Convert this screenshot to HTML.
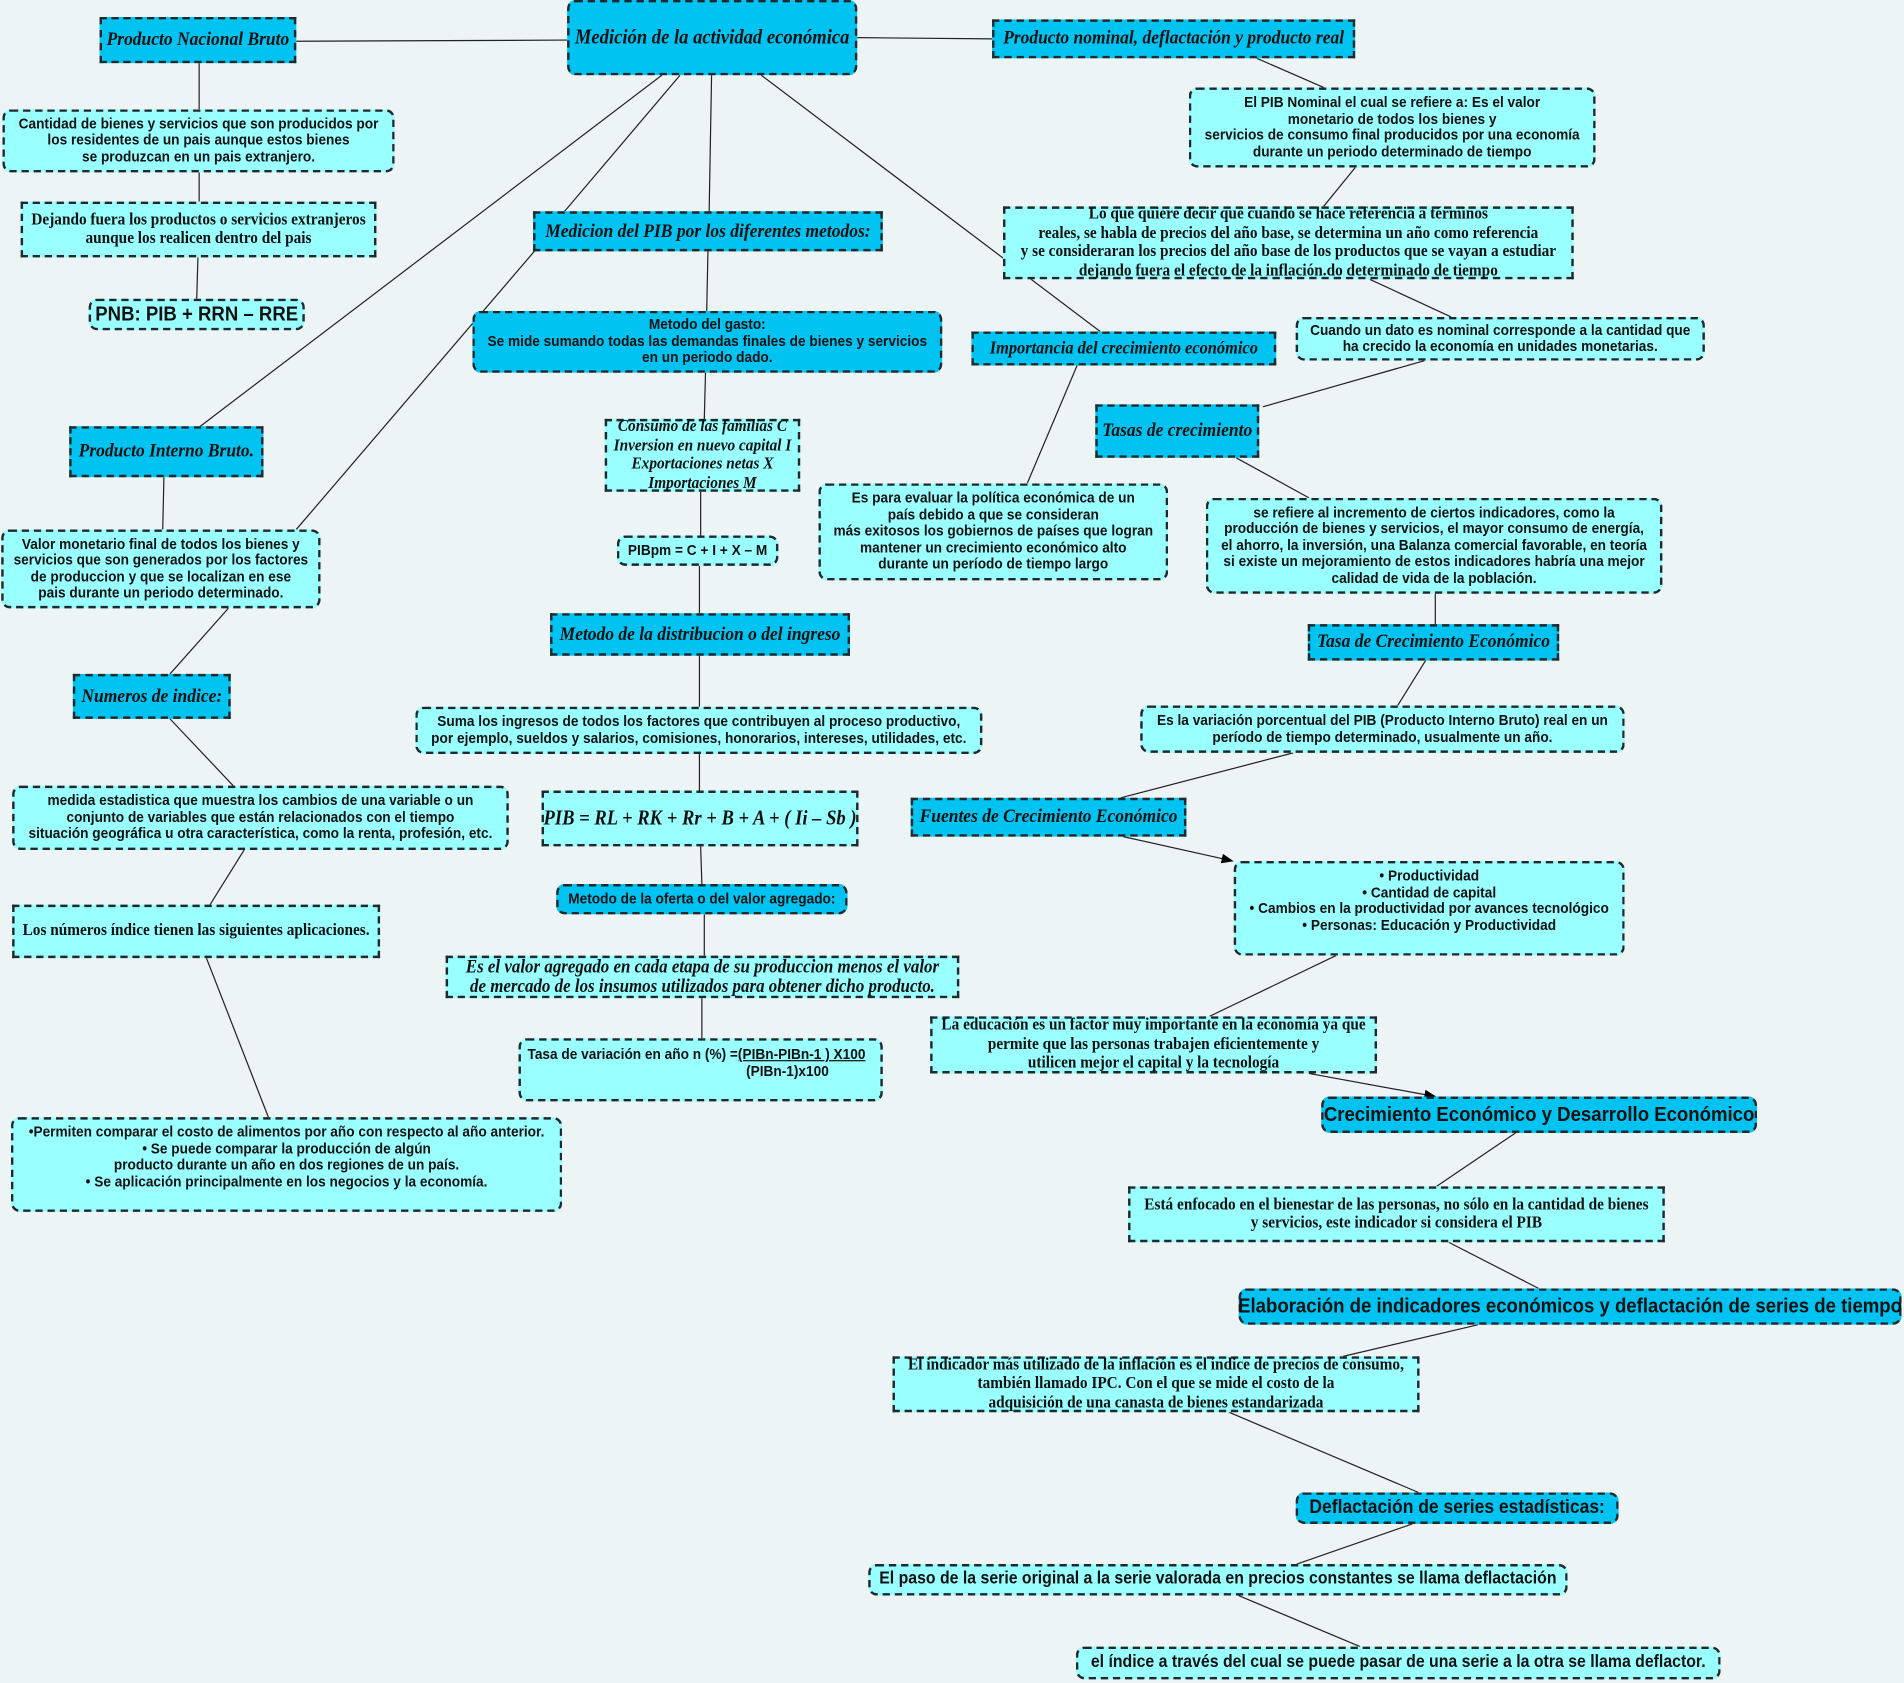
<!DOCTYPE html>
<html><head><meta charset="utf-8">
<style>
html,body{margin:0;padding:0;background:#edf4f6;}
#wrap{position:relative;width:1568px;height:1386px;transform:scale(1.2143);transform-origin:0 0;}
svg{position:absolute;left:0;top:0;}
.b{position:absolute;box-sizing:border-box;border:2px dashed #1e2a2e;overflow:visible;}
.d{background:#00c3f2;}
.l{background:#99ffff;}
.r{border-radius:7px;}
.t{position:absolute;left:0;top:0;width:111.1%;height:100%;transform:scaleX(.9);transform-origin:0 0;display:flex;align-items:center;justify-content:center;text-align:center;color:#111;white-space:nowrap;}
.s{font-family:"Liberation Sans",sans-serif;font-weight:bold;font-size:12.5px;line-height:13.5px;}
.f{font-family:"Liberation Serif",serif;font-weight:bold;font-size:14px;line-height:15.5px;}
.i{font-family:"Liberation Serif",serif;font-weight:bold;font-style:italic;font-size:16px;}
.h{font-family:"Liberation Sans",sans-serif;font-weight:bold;font-size:17px;}
</style></head><body>
<div id="wrap">
<svg width="1568" height="1386" viewBox="0 0 1568 1386">
<defs><marker id="a" markerWidth="10" markerHeight="8" refX="9" refY="4" orient="auto"><path d="M0,0 L10,4 L0,8z" fill="#000"/></marker></defs>
<g stroke="#222" stroke-width="1" fill="none">
<line x1="244" y1="34" x2="467" y2="33"/>
<line x1="706" y1="31" x2="817" y2="32"/>
<line x1="164" y1="52" x2="164" y2="90"/>
<line x1="164" y1="142" x2="164" y2="166"/>
<line x1="163" y1="212" x2="162" y2="246"/>
<line x1="545" y1="62" x2="165" y2="351"/>
<line x1="560" y1="62" x2="465" y2="174"/>
<line x1="586" y1="62" x2="584" y2="174"/>
<line x1="627" y1="62" x2="906" y2="273"/>
<line x1="1035" y1="48" x2="1090" y2="72"/>
<line x1="1116" y1="138" x2="1090" y2="170"/>
<line x1="1128" y1="230" x2="1195" y2="261"/>
<line x1="1173" y1="297" x2="1040" y2="335"/>
<line x1="583" y1="207" x2="582" y2="256"/>
<line x1="440" y1="207" x2="244" y2="436"/>
<line x1="581" y1="307" x2="580" y2="345"/>
<line x1="577" y1="405" x2="577" y2="441"/>
<line x1="576" y1="466" x2="576" y2="505"/>
<line x1="576" y1="540" x2="576" y2="582"/>
<line x1="576" y1="621" x2="576" y2="651"/>
<line x1="577" y1="697" x2="578" y2="728"/>
<line x1="580" y1="753" x2="580" y2="787"/>
<line x1="578" y1="822" x2="578" y2="855"/>
<line x1="135" y1="393" x2="134" y2="436"/>
<line x1="887" y1="301" x2="846" y2="398"/>
<line x1="1018" y1="377" x2="1078" y2="410"/>
<line x1="1182" y1="489" x2="1182" y2="514"/>
<line x1="1174" y1="544" x2="1151" y2="581"/>
<line x1="1065" y1="620" x2="923" y2="657"/>
<line x1="188" y1="501" x2="140" y2="555"/>
<line x1="140" y1="592" x2="192" y2="647"/>
<line x1="201" y1="700" x2="173" y2="745"/>
<line x1="170" y1="789" x2="221" y2="920"/>
<line x1="925" y1="689" x2="1015" y2="709" marker-end="url(#a)"/>
<line x1="1100" y1="787" x2="996" y2="837"/>
<line x1="1078" y1="884" x2="1182" y2="903" marker-end="url(#a)"/>
<line x1="1248" y1="933" x2="1183" y2="977"/>
<line x1="1193" y1="1023" x2="1267" y2="1061"/>
<line x1="1217" y1="1091" x2="1106" y2="1117"/>
<line x1="1012" y1="1163" x2="1168" y2="1229"/>
<line x1="1163" y1="1255" x2="1068" y2="1288"/>
<line x1="1020" y1="1314" x2="1120" y2="1356"/>
</g></svg>

<div class="b d r" style="left:467px;top:0;width:239px;height:62px"><div class="t i" style="font-size:17px">Medición de la actividad económica</div></div>
<div class="b d" style="left:82px;top:14px;width:162px;height:38px"><div class="t i">Producto Nacional Bruto</div></div>
<div class="b d" style="left:817px;top:16px;width:299px;height:32px"><div class="t i">Producto nominal, deflactación y producto real</div></div>
<div class="b l r" style="left:2px;top:90px;width:323px;height:52px"><div class="t s">Cantidad de bienes y servicios que son producidos por<br>los residentes de un pais aunque estos bienes<br>se produzcan en un pais extranjero.</div></div>
<div class="b l" style="left:17px;top:166px;width:293px;height:46px"><div class="t f">Dejando fuera los productos o servicios extranjeros<br>aunque los realicen dentro del pais</div></div>
<div class="b l r" style="left:73px;top:246px;width:178px;height:26px"><div class="t h" style="font-size:17px">PNB: PIB + RRN – RRE</div></div>
<div class="b l r" style="left:979px;top:72px;width:335px;height:66px"><div class="t s">El PIB Nominal el cual se refiere a: Es el valor<br>monetario de todos los bienes y<br>servicios de consumo final producidos por una economía<br>durante un periodo determinado de tiempo</div></div>
<div class="b l" style="left:826px;top:170px;width:470px;height:60px"><div class="t f">Lo que quiere decir que cuando se hace referencia a términos<br>reales, se habla de precios del año base, se determina un año como referencia<br>y se consideraran los precios del año base de los productos que se vayan a estudiar<br>dejando fuera el efecto de la inflación.do determinado de tiempo</div></div>
<div class="b d" style="left:439px;top:174px;width:288px;height:33px"><div class="t i">Medicion del PIB por los diferentes metodos:</div></div>
<div class="b d r" style="left:389px;top:256px;width:387px;height:51px"><div class="t s">Metodo del gasto:<br>Se mide sumando todas las demandas finales de bienes y servicios<br>en un periodo dado.</div></div>
<div class="b d" style="left:800px;top:273px;width:251px;height:28px"><div class="t i" style="font-size:15px">Importancia del crecimiento económico</div></div>
<div class="b l r" style="left:1067px;top:261px;width:337px;height:36px"><div class="t s">Cuando un dato es nominal corresponde a la cantidad que<br>ha crecido la economía en unidades monetarias.</div></div>
<div class="b d" style="left:57px;top:351px;width:160px;height:42px"><div class="t i">Producto Interno Bruto.</div></div>
<div class="b l" style="left:498px;top:345px;width:161px;height:60px"><div class="t f" style="font-style:italic">Consumo de las familias C<br>Inversion en nuevo capital I<br>Exportaciones netas X<br>Importaciones M</div></div>
<div class="b d" style="left:902px;top:333px;width:135px;height:44px"><div class="t i">Tasas de crecimiento</div></div>
<div class="b l r" style="left:674px;top:398px;width:288px;height:80px"><div class="t s">Es para evaluar la política económica de un<br>país debido a que se consideran<br>más exitosos los gobiernos de países que logran<br>mantener un crecimiento económico alto<br>durante un período de tiempo largo</div></div>
<div class="b l r" style="left:993px;top:410px;width:376px;height:79px"><div class="t s">se refiere al incremento de ciertos indicadores, como la<br>producción de bienes y servicios, el mayor consumo de  energía,<br>el ahorro, la inversión, una Balanza comercial favorable, en teoría<br>si existe un mejoramiento de estos indicadores habría una mejor<br>calidad de vida de la población.</div></div>
<div class="b l r" style="left:1px;top:436px;width:263px;height:65px"><div class="t s">Valor monetario final de todos los bienes y<br>servicios que son generados por los factores<br>de produccion y que se localizan en ese<br>pais durante un periodo determinado.</div></div>
<div class="b l r" style="left:508px;top:441px;width:133px;height:25px"><div class="t s">PIBpm = C + I + X – M</div></div>
<div class="b d" style="left:453px;top:505px;width:247px;height:35px"><div class="t i">Metodo de la distribucion o del ingreso</div></div>
<div class="b d" style="left:1077px;top:514px;width:207px;height:30px"><div class="t i">Tasa de Crecimiento Económico</div></div>
<div class="b d" style="left:60px;top:555px;width:130px;height:37px"><div class="t i">Numeros de indice:</div></div>
<div class="b l r" style="left:342px;top:582px;width:467px;height:39px"><div class="t s">Suma los ingresos de todos los factores que contribuyen al proceso productivo,<br>por ejemplo, sueldos y salarios, comisiones, honorarios, intereses, utilidades, etc.</div></div>
<div class="b l r" style="left:939px;top:581px;width:399px;height:39px"><div class="t s">Es la variación porcentual del PIB (Producto Interno Bruto) real en un<br>período de tiempo determinado, usualmente un año.</div></div>
<div class="b l r" style="left:10px;top:647px;width:409px;height:53px"><div class="t s">medida estadistica que muestra los cambios de una variable o un<br>conjunto de variables que están relacionados con el tiempo<br>situación geográfica u otra característica, como la renta, profesión, etc.</div></div>
<div class="b l" style="left:446px;top:651px;width:261px;height:46px"><div class="t i" style="font-size:17px">PIB = RL + RK + Rr + B + A + ( Ii – Sb )</div></div>
<div class="b d" style="left:750px;top:657px;width:227px;height:32px"><div class="t i">Fuentes de Crecimiento Económico</div></div>
<div class="b l r" style="left:1016px;top:709px;width:322px;height:78px;"><div class="t s" style="align-items:flex-start;padding-top:4px">• Productividad<br>• Cantidad de capital<br>• Cambios en la productividad por avances tecnológico<br>• Personas: Educación y Productividad</div></div>
<div class="b d r" style="left:458px;top:728px;width:240px;height:25px"><div class="t s">Metodo de la oferta o del valor agregado:</div></div>
<div class="b l" style="left:10px;top:745px;width:303px;height:44px"><div class="t f">Los números índice tienen las siguientes aplicaciones.</div></div>
<div class="b l" style="left:367px;top:787px;width:423px;height:35px"><div class="t i" style="font-size:15.5px;line-height:16px">Es el valor agregado en cada etapa de su produccion menos el valor<br>de mercado de los insumos utilizados para obtener dicho producto.</div></div>
<div class="b l" style="left:766px;top:837px;width:368px;height:47px"><div class="t f">La educación es un factor muy importante en la economía ya que<br>permite que las personas trabajen eficientemente y<br>utilicen mejor el capital y la tecnología</div></div>
<div class="b l r" style="left:427px;top:855px;width:300px;height:52px"><div class="t s" style="display:block;text-align:left;padding:5px 0 0 6px;box-sizing:border-box">Tasa de variación en año n (%) =<u>(PIBn-PIBn-1 ) X100</u><br><span style="display:inline-block;margin-left:200px">(PIBn-1)x100</span></div></div>
<div class="b d r" style="left:1088px;top:903px;width:359px;height:30px"><div class="t h">Crecimiento Económico y Desarrollo Económico</div></div>
<div class="b l r" style="left:9px;top:920px;width:454px;height:78px"><div class="t s" style="align-items:flex-start;padding-top:4px">•Permiten comparar el costo de alimentos por año con respecto al año anterior.<br>• Se puede comparar la producción de algún<br>producto durante un año en dos regiones de un país.<br>• Se aplicación principalmente en los negocios y la economía.</div></div>
<div class="b l" style="left:929px;top:977px;width:442px;height:46px"><div class="t f">Está enfocado en el bienestar de las personas, no sólo en la cantidad de bienes<br>y servicios, este indicador si considera el PIB</div></div>
<div class="b d r" style="left:1020px;top:1061px;width:546px;height:30px"><div class="t h">Elaboración de indicadores económicos y deflactación de series de tiempo</div></div>
<div class="b l" style="left:735px;top:1117px;width:434px;height:46px"><div class="t f">El indicador más utilizado de la inflación es el índice de precios de consumo,<br>también llamado IPC. Con el que se mide el costo de la<br>adquisición de una canasta de bienes estandarizada</div></div>
<div class="b d r" style="left:1067px;top:1229px;width:266px;height:26px"><div class="t h" style="font-size:16px">Deflactación de series estadísticas:</div></div>
<div class="b l r" style="left:715px;top:1288px;width:576px;height:26px"><div class="t s" style="font-size:14.5px">El paso de la serie original a la serie valorada en precios constantes se llama deflactación</div></div>
<div class="b l r" style="left:886px;top:1356px;width:531px;height:27px"><div class="t s" style="font-size:14.5px">el índice a través del cual se puede pasar de una serie a la otra se llama deflactor.</div></div>
</div>
</body></html>
